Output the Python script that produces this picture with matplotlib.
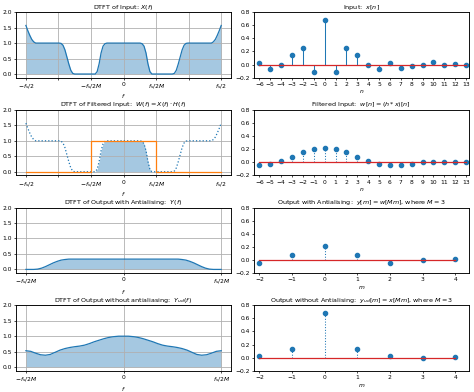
import matplotlib
matplotlib.use('Agg')
import matplotlib.pyplot as plt
import numpy as np

M = 3

# DTFT of input X(f) (f in units of fs)
f_x = [-0.50, -0.49, -0.48, -0.47, -0.46, -0.45, -0.33, -0.32, -0.31, -0.30, -0.29, -0.28, -0.27, -0.26, -0.25,
       -0.145, -0.135, -0.125, -0.115, -0.105, -0.095, -0.085,
       0.085, 0.095, 0.105, 0.115, 0.125, 0.135, 0.145,
       0.25, 0.26, 0.27, 0.28, 0.29, 0.30, 0.31, 0.32, 0.33, 0.45, 0.46, 0.47, 0.48, 0.49, 0.50]
X_vals = [1.57, 1.40, 1.25, 1.12, 1.04, 1.00, 1.00, 0.99, 0.93, 0.78, 0.55, 0.32, 0.12, 0.02, 0.00,
          0.00, 0.08, 0.33, 0.68, 0.90, 0.98, 1.00,
          1.00, 0.98, 0.90, 0.68, 0.33, 0.08, 0.00,
          0.00, 0.02, 0.12, 0.32, 0.55, 0.78, 0.93, 0.99, 1.00, 1.00, 1.04, 1.12, 1.25, 1.40, 1.57]

# ideal lowpass H(f)
f_h = [-0.5, -1 / 6, -1 / 6, 1 / 6, 1 / 6, 0.5]
H_vals = [0, 0, 1, 1, 0, 0]

# W(f) = X(f)H(f)
f_w = [-0.5, -0.145, -0.135, -0.125, -0.115, -0.105, -0.095, -0.085,
       0.085, 0.095, 0.105, 0.115, 0.125, 0.135, 0.145, 0.5]
W_vals = [0.00, 0.00, 0.08, 0.33, 0.68, 0.90, 0.98, 1.00,
          1.00, 0.98, 0.90, 0.68, 0.33, 0.08, 0.00, 0.00]

# Y(f), with antialiasing (u in units of fs/M)
u_y = [-0.50, -0.46, -0.44, -0.42, -0.40, -0.38, -0.36, -0.34, -0.32, -0.30, -0.28,
       0.28, 0.30, 0.32, 0.34, 0.36, 0.38, 0.40, 0.42, 0.44, 0.46, 0.50]
Y_vals = [0.00, 0.00, 0.01, 0.04, 0.09, 0.15, 0.21, 0.26, 0.30, 0.32, 0.333,
          0.333, 0.32, 0.30, 0.26, 0.21, 0.15, 0.09, 0.04, 0.01, 0.00, 0.00]

# Y_ud(f), without antialiasing
u_ud = [-0.500, -0.475, -0.450, -0.425, -0.400, -0.375, -0.350, -0.325, -0.300, -0.275, -0.250,
        -0.225, -0.200, -0.175, -0.150, -0.125, -0.100, -0.075, -0.050, -0.025, 0.000,
        0.025, 0.050, 0.075, 0.100, 0.125, 0.150, 0.175, 0.200, 0.225,
        0.250, 0.275, 0.300, 0.325, 0.350, 0.375, 0.400, 0.425, 0.450, 0.475, 0.500]
Yud_vals = [0.53, 0.51, 0.45, 0.40, 0.385, 0.41, 0.48, 0.55, 0.60, 0.635, 0.66,
            0.68, 0.71, 0.76, 0.82, 0.87, 0.92, 0.96, 0.985, 1.00, 1.00,
            1.00, 0.985, 0.96, 0.92, 0.87, 0.82, 0.76, 0.71, 0.68,
            0.66, 0.635, 0.60, 0.55, 0.48, 0.41, 0.385, 0.40, 0.45, 0.51, 0.53]

# time-domain sequences
n = list(range(-6, 14))
x_n = [0.02, -0.06, -0.01, 0.14, 0.25, -0.12, 0.68, -0.12, 0.25, 0.14,
       -0.01, -0.06, 0.02, -0.05, -0.02, 0.00, 0.04, -0.01, 0.01, 0.00]
w_n = [-0.04, -0.02, 0.02, 0.08, 0.15, 0.20, 0.22, 0.20, 0.15, 0.08,
       0.02, -0.02, -0.04, -0.04, -0.02, 0.00, 0.01, 0.01, 0.005, 0.00]
m = list(range(-2, 5))
y_m = [-0.04, 0.08, 0.22, 0.08, -0.04, 0.00, 0.01]
yud_m = [0.02, 0.14, 0.68, 0.14, 0.02, -0.01, 0.01]

full_ticks = [-0.5, -1 / 3, -1 / 6, 0, 1 / 6, 1 / 3, 0.5]
full_labels = ['$-f_s/2$', '', '$-f_s/2M$', '0', '$f_s/2M$', '', '$f_s/2$']
dec_ticks = [-0.5, 0, 0.5]
dec_labels = ['$-f_s/2M$', '0', '$f_s/2M$']

# small fonts / thin lines, like a big figure shrunk down
plt.rcParams.update({
    'font.size': 4.3,
    'axes.titlesize': 4.6,
    'axes.labelsize': 4.3,
    'axes.linewidth': 0.65,
    'xtick.major.size': 1.6,
    'ytick.major.size': 1.6,
    'xtick.major.width': 0.5,
    'ytick.major.width': 0.5,
    'xtick.major.pad': 1.5,
    'ytick.major.pad': 1.5,
    'grid.linewidth': 0.6,
    'lines.linewidth': 0.9,
})

fig, axes = plt.subplots(4, 2, figsize=(4.74, 3.92), dpi=100)
fig.subplots_adjust(left=0.034, right=0.989, top=0.969, bottom=0.054, hspace=0.49, wspace=0.107)


def spectrum_axes(ax, ticks, labels, title):
    ax.set_xticks(ticks)
    ax.set_xticklabels(labels)
    ax.set_xlim(-0.55, 0.55)
    ax.set_ylim(-0.12, 2.0)
    ax.set_yticks([0, 0.5, 1.0, 1.5, 2.0])
    ax.grid(True)
    ax.set_xlabel('$f$', labelpad=1)
    ax.set_title(title, pad=2.5)


def stem_axes(ax, ticks, xlim, xlabel, title):
    ax.set_xticks(ticks)
    ax.set_xlim(*xlim)
    ax.set_ylim(-0.2, 0.8)
    ax.set_xlabel(xlabel, labelpad=1)
    ax.set_title(title, pad=2.5)


def stem(ax, xs, ys, fmt):
    ml, sl, bl = ax.stem(xs, ys, linefmt=fmt, markerfmt='C0o', basefmt='C3-')
    ml.set_markersize(3.0)
    sl.set_linewidth(0.75)
    bl.set_linewidth(0.9)


ax = axes[0, 0]
ax.plot(f_x, X_vals, color='C0')
ax.fill_between(f_x, X_vals, color='C0', alpha=0.4, lw=0)
spectrum_axes(ax, full_ticks, full_labels, 'DTFT of Input: $X(f)$')

ax = axes[0, 1]
stem(ax, n, x_n, 'C0-')
stem_axes(ax, n, (-6.5, 13.25), '$n$', 'Input:  $x[n]$')

ax = axes[1, 0]
ax.plot(f_x, X_vals, color='C0', ls=':')
ax.fill_between(f_w, W_vals, color='C0', alpha=0.4, lw=0)
ax.plot(f_h, H_vals, color='C1')
spectrum_axes(ax, full_ticks, full_labels, 'DTFT of Filtered Input:  $W(f) = X(f)\\cdot H(f)$')

ax = axes[1, 1]
stem(ax, n, w_n, 'C0:')
stem_axes(ax, n, (-6.5, 13.25), '$n$', 'Filtered Input:  $w[n] = (h * x)[n]$')

ax = axes[2, 0]
ax.plot(u_y, Y_vals, color='C0')
ax.fill_between(u_y, Y_vals, color='C0', alpha=0.4, lw=0)
spectrum_axes(ax, dec_ticks, dec_labels, 'DTFT of Output with Antialising:  $Y(f)$')

ax = axes[2, 1]
stem(ax, m, y_m, 'C0:')
stem_axes(ax, m, (-6.5 / M, 13.25 / M), '$m$', 'Output with Antialising:  $y[m] = w[Mm]$, where $M = 3$')

ax = axes[3, 0]
ax.plot(u_ud, Yud_vals, color='C0')
ax.fill_between(u_ud, Yud_vals, color='C0', alpha=0.4, lw=0)
spectrum_axes(ax, dec_ticks, dec_labels, 'DTFT of Output without antialiasing:  $Y_{ud}(f)$')

ax = axes[3, 1]
stem(ax, m, yud_m, 'C0:')
stem_axes(ax, m, (-6.5 / M, 13.25 / M), '$m$', 'Output without Antialising:  $y_{ud}[m] = x[Mm]$, where $M = 3$')

fig.savefig('out.png', dpi=100)
